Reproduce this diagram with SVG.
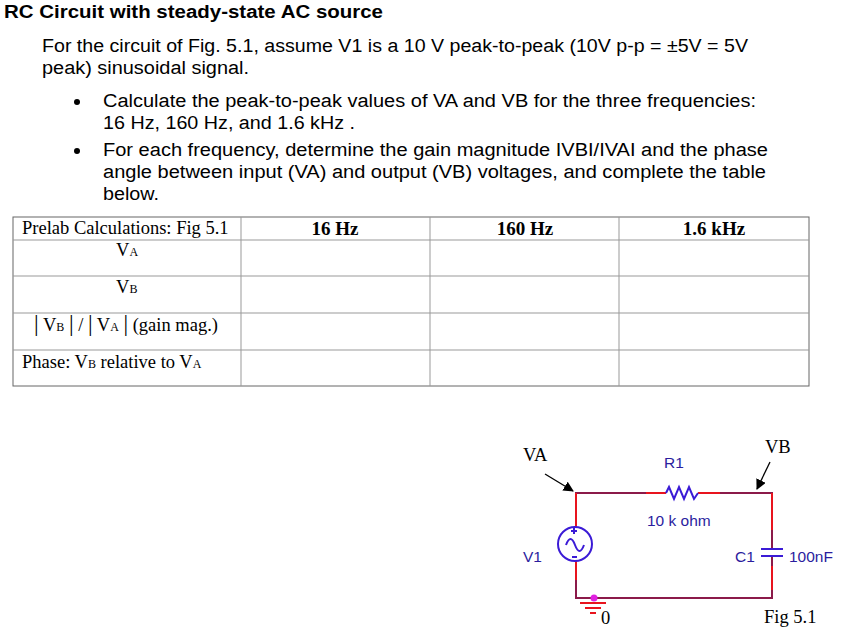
<svg xmlns="http://www.w3.org/2000/svg" width="844" height="628" viewBox="0 0 844 628">
<defs>
<marker id="ah" viewBox="0 0 10 10" refX="9" refY="5" markerWidth="8" markerHeight="8" orient="auto"><path d="M0,0 L10,5 L0,10 z" fill="#000"/></marker>
<style>
.s{font-family:"Liberation Sans",Arial,sans-serif;font-size:18px;fill:#000}
.t{font-family:"Liberation Serif","Times New Roman",serif;font-size:18.5px;fill:#000}
.tb{font-family:"Liberation Serif","Times New Roman",serif;font-size:19px;font-weight:bold;fill:#000}
.c{font-family:"Liberation Sans",Arial,sans-serif;font-size:15.5px;fill:#2b1d9e}
.g{stroke:#999;stroke-width:1;fill:none}
.w{stroke:#8b1a4a;stroke-width:2;fill:none}
.r{stroke:#e8141e;stroke-width:2;fill:none}
.b{stroke:#3b1bd6;stroke-width:2;fill:none}
</style>
</defs>
<rect width="844" height="628" fill="#fff"/>
<text x="4" y="18" class="s" font-weight="bold" textLength="379" lengthAdjust="spacingAndGlyphs">RC Circuit with steady-state AC source</text>
<text x="42" y="52" class="s" textLength="706" lengthAdjust="spacingAndGlyphs">For the circuit of Fig. 5.1, assume V1 is a 10 V peak-to-peak (10V p-p = ±5V = 5V</text>
<text x="42" y="74" class="s" textLength="207" lengthAdjust="spacingAndGlyphs">peak) sinusoidal signal.</text>
<circle cx="77" cy="102" r="3" fill="#000"/>
<text x="103" y="107" class="s" textLength="653" lengthAdjust="spacingAndGlyphs">Calculate the peak-to-peak values of VA and VB for the three frequencies:</text>
<text x="103" y="129" class="s" textLength="252" lengthAdjust="spacingAndGlyphs">16 Hz, 160 Hz, and 1.6 kHz .</text>
<circle cx="77" cy="151" r="3" fill="#000"/>
<text x="103" y="156" class="s" textLength="665" lengthAdjust="spacingAndGlyphs">For each frequency, determine the gain magnitude IVBI/IVAI and the phase</text>
<text x="103" y="178" class="s" textLength="663" lengthAdjust="spacingAndGlyphs">angle between input (VA) and output (VB) voltages, and complete the table</text>
<text x="103" y="200" class="s" textLength="56" lengthAdjust="spacingAndGlyphs">below.</text>
<g id="table">
<rect x="13" y="217" width="796" height="169" fill="none" stroke="#666" stroke-width="1"/>
<path class="g" d="M13,240H809M13,276H809M13,313H809M13,350H809M241,217V386M430,217V386M619,217V386"/>
<text x="22" y="234" class="t">Prelab Calculations: Fig 5.1</text>
<text x="335" y="235" class="tb" text-anchor="middle">16 Hz</text>
<text x="525" y="235" class="tb" text-anchor="middle">160 Hz</text>
<text x="714" y="235" class="tb" text-anchor="middle">1.6 kHz</text>
<text x="116" y="256" class="t">V<tspan font-size="12">A</tspan></text>
<text x="116" y="293" class="t">V<tspan font-size="12">B</tspan></text>
<text x="34" y="331" class="t"><tspan font-size="23">|</tspan> V<tspan font-size="12">B</tspan> <tspan font-size="23">|</tspan> / <tspan font-size="23">|</tspan> V<tspan font-size="12">A</tspan> <tspan font-size="23">|</tspan>  (gain mag.)</text>
<text x="22" y="368" class="t">Phase: V<tspan font-size="12">B</tspan> relative to V<tspan font-size="12">A</tspan></text>
</g>
<g id="connectors">
<path class="w" d="M646,493H576V598H772V493H720"/>
<path class="r" d="M576,493V527M576,561V580M646,493H666M698,493H720M772,493V530M772,566V590"/>
<path d="M545,474L573,491" stroke="#000" stroke-width="1.3" marker-end="url(#ah)"/>
<path d="M770,462L757,489" stroke="#000" stroke-width="1.3" marker-end="url(#ah)"/>
</g>
<g id="V1">
<path d="M576,527V561" stroke="#fff" stroke-width="3"/>
<circle cx="575" cy="544" r="17" class="b"/>
<path class="b" d="M566,545c3,-8 6,-8 9,0s6,8 9,0"/>
<path class="b" stroke-width="1.3" d="M574,528v6M571,531h6M572,557h5"/>
<text x="523" y="562" class="c">V1</text>
</g>
<g id="R1">
<path class="b" d="M666,493l3,-6l5,12l5,-12l5,12l5,-12l5,12l4,-6"/>
<text x="664" y="468" class="c">R1</text>
<text x="647" y="526" class="c">10 k ohm</text>
</g>
<g id="C1">
<path d="M772,549V556" stroke="#fff" stroke-width="3"/>
<path class="b" d="M761,549H783M761,556H783"/>
<text x="735" y="562" class="c">C1</text>
<text x="789" y="562" class="c">100nF</text>
</g>
<g id="GND">
<circle cx="594" cy="598" r="3.5" fill="#e020e0"/>
<path class="r" d="M580,603H606M585,608H601M590,613H596"/>
<text x="601" y="624" class="t" font-size="18">0</text>
</g>
<text x="523" y="461" class="t" font-size="21">VA</text>
<text x="765" y="453" class="t" font-size="21">VB</text>
<text x="764" y="623" class="t" font-size="18">Fig 5.1</text>
</svg>
